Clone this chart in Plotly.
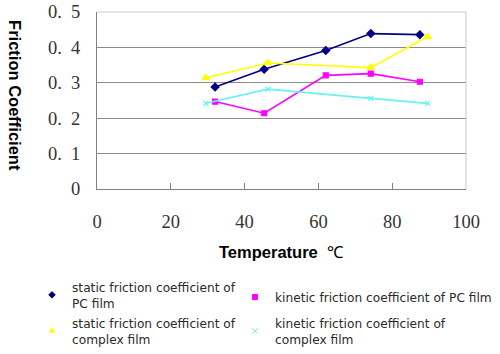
import plotly.graph_objects as go

# Data
temp_pc = [32, 45.3, 62, 74.2, 87.5]
static_pc = [0.288, 0.338, 0.391, 0.439, 0.436]
kinetic_pc = [0.247, 0.214, 0.321, 0.326, 0.303]

temp_complex = [29.5, 46.3, 74.2, 89.6]
static_complex = [0.314, 0.356, 0.343, 0.430]
kinetic_complex = [0.242, 0.282, 0.256, 0.242]

x_ticks = [0, 20, 40, 60, 80, 100]
y_ticks = [0, 0.1, 0.2, 0.3, 0.4, 0.5]
y_tick_labels = ["0", "0.\u00a0\u00a01", "0.\u00a0\u00a02", "0.\u00a0\u00a03", "0.\u00a0\u00a04", "0.\u00a0\u00a05"]

series = [
    ("static friction coefficient of<br>PC film", temp_pc, static_pc, "#000080", "diamond", 6, "legend"),
    ("kinetic friction coefficient of PC film", temp_pc, kinetic_pc, "#FF00FF", "square", 5, "legend2"),
    ("static friction coefficient of<br>complex film", temp_complex, static_complex, "#FFFF00", "triangle-up", 7, "legend3"),
    ("kinetic friction coefficient of<br>complex film", temp_complex, kinetic_complex, "#66F2F2", "x-thin-open", 5, "legend4"),
]

fig = go.Figure()
for name, xs, ys, color, sym, size, lg in series:
    fig.add_trace(go.Scatter(
        x=xs, y=ys, mode="lines+markers", showlegend=False,
        line=dict(color=color, width=1.6),
        marker=dict(symbol=sym, size=size, color=color, line=dict(color=color, width=1.2)),
    ))
for name, xs, ys, color, sym, size, lg in series:
    fig.add_trace(go.Scatter(
        x=[None], y=[None], mode="markers", name=name, legend=lg,
        marker=dict(symbol=sym, size=5, color=color, line=dict(color=color, width=1)),
    ))

legend_font = dict(family="DejaVu Sans", size=12.2, color="#2a2a2a")


def mk_legend(x, y):
    return dict(
        orientation="v", xref="container", yref="container",
        x=x, y=y, xanchor="left", yanchor="middle",
        font=legend_font, itemwidth=30, bgcolor="rgba(0,0,0,0)",
    )


fig.update_layout(
    width=500, height=354,
    margin=dict(l=97, r=34, t=12, b=165, autoexpand=False),
    paper_bgcolor="white", plot_bgcolor="white",
    font=dict(family="Liberation Sans", color="black"),
    xaxis=dict(
        range=[0, 100], tickvals=x_ticks, ticktext=[str(v) for v in x_ticks],
        ticks="inside", ticklen=6, tickcolor="#808080",
        showgrid=False, zeroline=False, automargin=False,
        showline=True, linecolor="#808080", linewidth=1, mirror=False,
        tickfont=dict(family="Liberation Serif", size=18.5, color="#333333"),
        ticklabelstandoff=16,
    ),
    yaxis=dict(
        range=[0, 0.5], tickvals=y_ticks, ticktext=y_tick_labels,
        ticks="", showgrid=True, gridcolor="#8c8c8c", gridwidth=1,
        zeroline=False, showline=True, linecolor="#808080", linewidth=1,
        automargin=False,
        tickfont=dict(family="Liberation Serif", size=18.5, color="#333333"),
        ticklabelstandoff=12,
    ),
    legend=mk_legend(32 / 500, 1 - 295 / 354),
    legend2=mk_legend(235 / 500, 1 - 297 / 354),
    legend3=mk_legend(32 / 500, 1 - 331 / 354),
    legend4=mk_legend(235 / 500, 1 - 331 / 354),
    shapes=[
        dict(type="line", xref="paper", yref="paper", x0=0, x1=1, y0=1, y1=1,
             line=dict(color="#c8c8c8", width=1)),
        dict(type="line", xref="paper", yref="paper", x0=1, x1=1, y0=0, y1=1,
             line=dict(color="#c8c8c8", width=1)),
    ],
    annotations=[
        dict(text="<b>Friction Coefficient</b>", textangle=90, xref="paper", yref="paper",
             x=-0.222, y=0.53, xanchor="center", yanchor="middle", showarrow=False,
             font=dict(family="Liberation Sans", size=16.5, color="black")),
        dict(text="<b>Temperature</b>  ℃", xref="paper", yref="paper",
             x=0.5, y=-0.355, xanchor="center", yanchor="middle", showarrow=False,
             font=dict(family="Liberation Sans", size=16.5, color="black")),
    ],
)

fig.write_html("out.html")
